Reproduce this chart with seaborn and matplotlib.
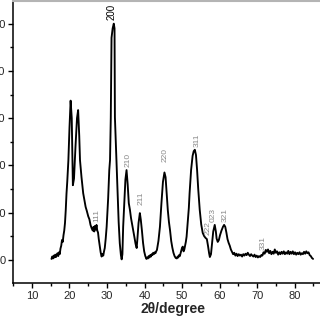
import matplotlib
matplotlib.use("Agg")
import matplotlib.pyplot as plt
import seaborn as sns
import pandas as pd
from matplotlib.ticker import MultipleLocator, FixedLocator

two_theta = [
    15.2, 15.4, 15.6, 15.8, 16.0, 16.2, 16.4, 16.6, 16.8, 17.0,
    17.2, 17.4, 17.6, 17.8, 18.0, 18.2, 18.4, 18.6, 18.8, 19.0,
    19.2, 19.4, 19.7, 20.0, 20.3, 20.6, 20.9, 21.2, 21.6, 22.0,
    22.3, 22.6, 22.8, 23.2, 23.65, 24.0, 24.3, 24.6, 25.0, 25.3,
    25.6, 25.9, 26.2, 26.4, 26.6, 26.8, 27.0, 27.2, 27.4, 27.6,
    27.8, 28.1, 28.3, 28.55, 28.8, 29.0, 29.2, 29.4, 29.65, 29.9,
    30.1, 30.3, 30.6, 30.8, 31.0, 31.2, 31.5, 31.8, 32.0, 32.1,
    32.5, 32.8, 33.1, 33.4, 33.7, 33.9, 34.1, 34.3, 34.6, 34.9,
    35.2, 35.5, 35.8, 36.1, 36.4, 36.7, 37.0, 37.3, 37.6, 37.9,
    38.1, 38.4, 38.75, 39.0, 39.3, 39.6, 39.9, 40.2, 40.5, 40.7,
    40.9, 41.1, 41.3, 41.5, 41.7, 41.9, 42.1, 42.3, 42.5, 42.7,
    42.9, 43.1, 43.3, 43.7, 44.1, 44.5, 44.9, 45.3, 45.6, 45.9,
    46.2, 46.5, 46.8, 47.1, 47.4, 47.7, 48.0, 48.3, 48.6, 48.8,
    49.0, 49.2, 49.4, 49.6, 49.8, 50.0, 50.2, 50.4, 50.6, 50.8,
    51.0, 51.2, 51.5, 51.8, 52.0, 52.4, 52.8, 53.1, 53.4, 53.7,
    54.0, 54.3, 54.7, 55.1, 55.5, 55.9, 56.3, 56.6, 56.9, 57.2,
    57.4, 57.7, 58.0, 58.3, 58.7, 59.0, 59.2, 59.5, 59.8, 60.1,
    60.5, 60.9, 61.2, 61.5, 61.8, 62.1, 62.4, 62.7, 63.0, 63.3,
    63.6, 63.9, 64.2, 64.5, 64.8, 65.1, 65.4, 65.7, 66.0, 66.3,
    66.6, 66.9, 67.2, 67.5, 67.8, 68.1, 68.4, 68.7, 69.0, 69.3,
    69.6, 69.9, 70.2, 70.5, 70.8, 71.1, 71.4, 71.7, 72.0, 72.3,
    72.6, 72.9, 73.2, 73.5, 73.8, 74.1, 74.4, 74.7, 75.0, 75.3,
    75.6, 75.9, 76.2, 76.5, 76.8, 77.1, 77.4, 77.7, 78.0, 78.3,
    78.6, 78.9, 79.2, 79.5, 79.8, 80.1, 80.4, 80.7, 81.0, 81.3,
    81.6, 81.9, 82.2, 82.5, 82.8, 83.1, 83.4, 83.7, 84.0, 84.3,
    84.6, 84.9,
]

intensity = [
    2, 7, 3, 9, 5, 11, 6, 10, 14, 8,
    16, 12, 24, 30, 42, 38, 52, 62, 78, 105,
    140, 165, 210, 280, 337, 300, 158, 172, 240, 300,
    317, 262, 211, 175, 141, 125, 112, 104, 92, 86,
    74, 67, 62, 70, 60, 72, 64, 74, 62, 58,
    44, 28, 16, 7, 12, 9, 18, 25, 45, 70,
    100, 130, 190, 211, 300, 470, 490, 500, 490, 302,
    211, 140, 80, 35, 10, 1, 12, 70, 120, 170,
    190, 160, 120, 106, 88, 75, 63, 48, 34, 25,
    45, 78, 99, 85, 62, 36, 18, 8, 2, 5,
    3, 8, 5, 10, 7, 12, 10, 15, 12, 16,
    14, 18, 21, 40, 70, 120, 165, 185, 175, 140,
    105, 80, 62, 40, 26, 15, 8, 4, 3, 7,
    5, 10, 8, 14, 20, 26, 28, 18, 22, 30,
    38, 49, 80, 110, 141, 190, 220, 230, 233, 222,
    190, 150, 106, 75, 57, 50, 46, 44, 30, 14,
    6, 12, 35, 60, 74, 60, 45, 38, 42, 52,
    62, 70, 74, 70, 58, 44, 36, 30, 22, 17,
    12, 15, 9, 13, 8, 12, 9, 11, 7, 12,
    9, 13, 10, 15, 11, 8, 12, 9, 7, 11,
    6, 9, 5, 8, 6, 10, 9, 16, 13, 21,
    17, 22, 14, 19, 12, 17, 13, 22, 15, 18,
    11, 16, 12, 17, 13, 18, 12, 16, 13, 19,
    12, 17, 13, 18, 12, 16, 11, 15, 12, 16,
    11, 14, 12, 17, 13, 18, 14, 16, 10, 8,
    4, 2,
]

x_ticks = [10, 20, 30, 40, 50, 60, 70, 80]
peak_labels = ["200", "111", "210", "211", "220", "311", "222", "023", "321", "331"]
peak_label_x = [31.3, 27.3, 35.55, 39.0, 45.4, 53.9, 56.85, 58.4, 61.6, 71.5]
peak_label_y = [507, 80, 197, 116, 207, 239, 53, 80, 80, 21]

sns.set_style("ticks")
plt.rcParams['font.family'] = ['Liberation Sans', 'DejaVu Sans']

df = pd.DataFrame({"two_theta": two_theta, "intensity": intensity})

fig = plt.figure(figsize=(3.2, 3.2), dpi=100)
ax = fig.add_axes([13.2 / 320, 37 / 320, 319 / 320, 282.5 / 320])

sns.lineplot(data=df, x="two_theta", y="intensity", color="black",
             linewidth=1.35, estimator=None, sort=False, ax=ax)

ax.set_xlim(5, 90)
ax.set_ylim(-49, 549)
ax.xaxis.set_major_locator(FixedLocator(x_ticks))
ax.xaxis.set_minor_locator(FixedLocator([5, 15, 25, 35, 45, 55, 65, 75, 85]))
ax.yaxis.set_major_locator(MultipleLocator(100))
ax.yaxis.set_minor_locator(MultipleLocator(50))
ax.tick_params(which="major", length=3.5, width=1, direction="out",
               labelsize=8, pad=2, color="black")
ax.tick_params(which="minor", length=2.2, width=1, direction="out", color="black")

for side in ["left", "bottom"]:
    ax.spines[side].set_color("black")
    ax.spines[side].set_linewidth(1.1)
ax.spines["top"].set_visible(True)
ax.spines["top"].set_color("#b4b4b4")
ax.spines["top"].set_linewidth(1.5)
ax.spines["right"].set_visible(False)

ax.set_xlabel("2θ/degree", fontsize=10, fontweight="bold", labelpad=1)
ax.set_ylabel("")

for lab, lx, ly in zip(peak_labels, peak_label_x, peak_label_y):
    if lab == "200":
        ax.text(lx, ly, lab, rotation=90, ha="center", va="bottom",
                fontsize=7, color="black")
    else:
        ax.text(lx, ly, lab, rotation=90, ha="center", va="bottom",
                fontsize=6, color="#8a8a8a")

fig.savefig("out.png", dpi=100)
